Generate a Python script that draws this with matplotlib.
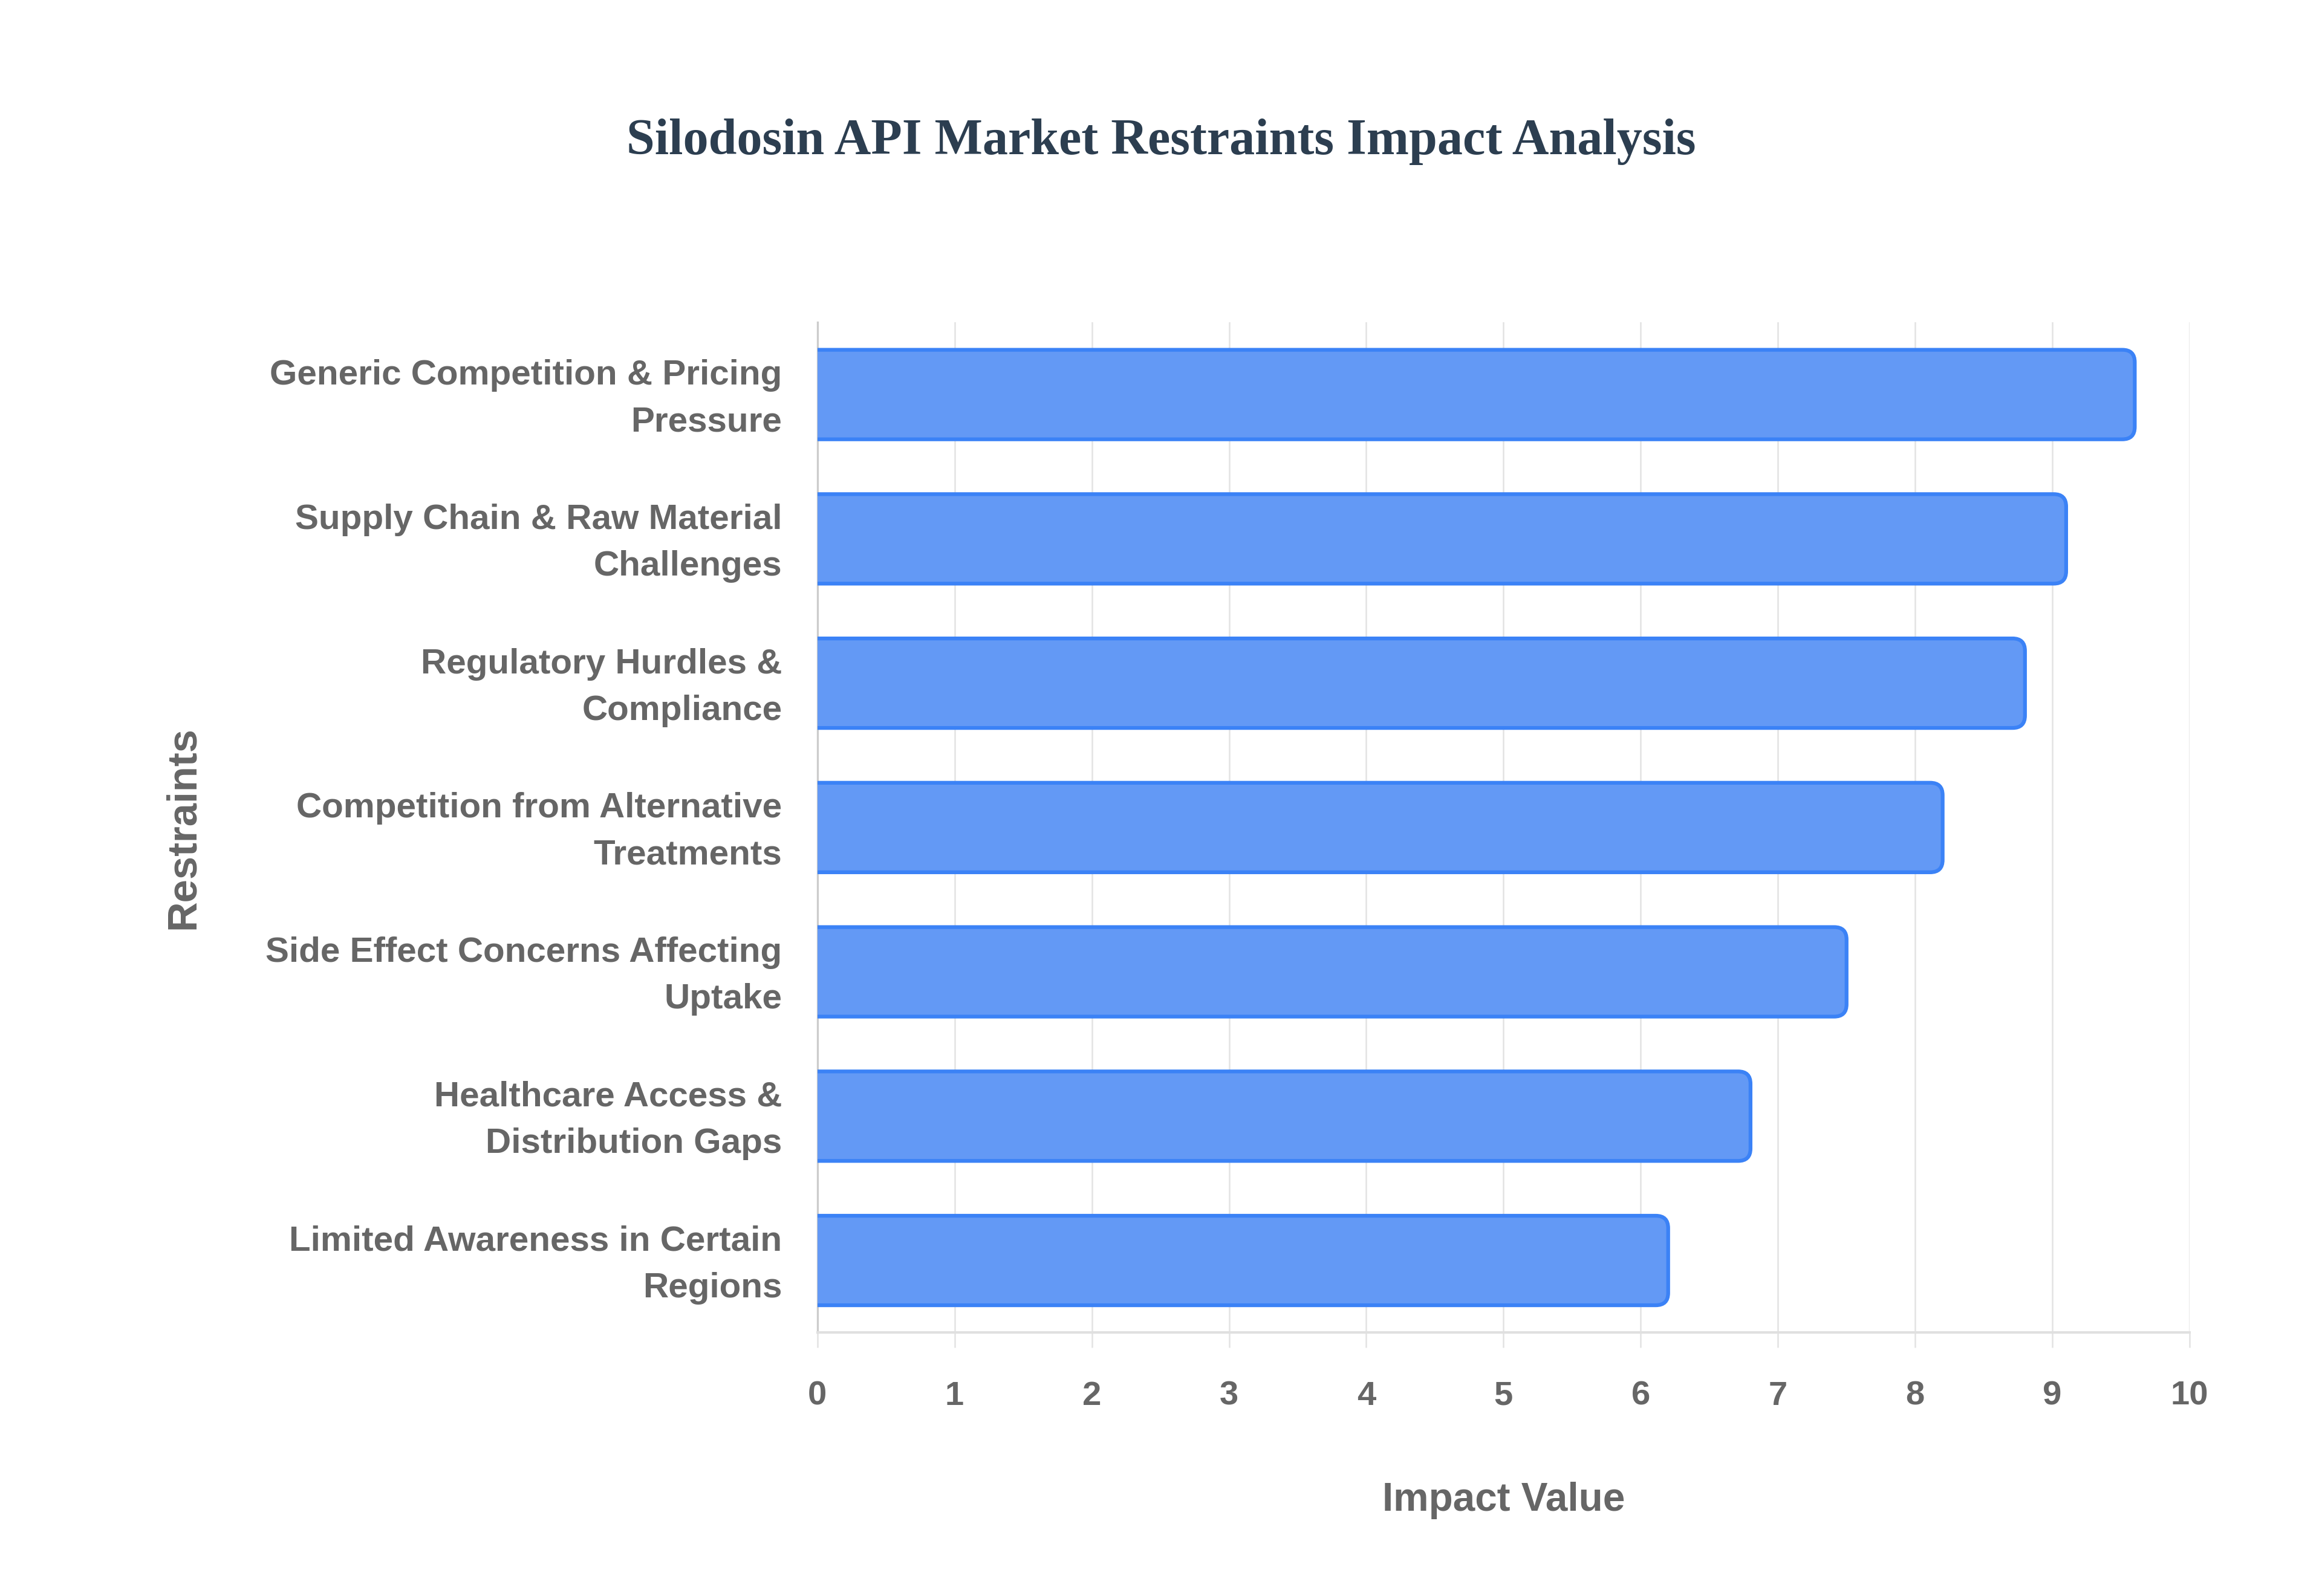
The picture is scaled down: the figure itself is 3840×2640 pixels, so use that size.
import matplotlib
matplotlib.use("Agg")
import matplotlib.pyplot as plt
import matplotlib.transforms as mtransforms
from matplotlib.patches import FancyBboxPatch

categories = [
    "Generic Competition & Pricing\nPressure",
    "Supply Chain & Raw Material\nChallenges",
    "Regulatory Hurdles &\nCompliance",
    "Competition from Alternative\nTreatments",
    "Side Effect Concerns Affecting\nUptake",
    "Healthcare Access &\nDistribution Gaps",
    "Limited Awareness in Certain\nRegions",
]
values = [9.6, 9.1, 8.8, 8.2, 7.5, 6.8, 6.2]
x_ticks = [0, 1, 2, 3, 4, 5, 6, 7, 8, 9, 10]

title = "Silodosin API Market Restraints Impact Analysis"
x_label = "Impact Value"
y_label = "Restraints"

fill_color = "#6399f5"
edge_color = "#3b82f6"
text_gray = "#666666"

fig = plt.figure(figsize=(12.8, 8.8), dpi=300)
ax = fig.add_axes([0.352, 0.165, 0.591, 0.633])

ypos = list(range(len(categories)))
bars = ax.barh(ypos, values, height=0.62, color=fill_color, edgecolor=edge_color, linewidth=1.5)
ax.set_xlim(0, 10)
ax.set_ylim(len(categories) - 0.5, -0.5)

# replace bars with rounded versions (rounded right end, left end hidden behind axis)
ax_w_px = 0.591 * 3840
ax_h_px = 0.633 * 2640
x_per_px = 10 / ax_w_px
y_per_px = len(categories) / ax_h_px
aspect = y_per_px / x_per_px
for b in bars:
    x0, y0 = b.get_x(), b.get_y()
    w, h = b.get_width(), b.get_height()
    r = 0.09
    p = FancyBboxPatch((x0 - 0.3, y0), w + 0.3, h,
                       boxstyle=f"round,pad=0,rounding_size={r}",
                       mutation_aspect=aspect,
                       facecolor=fill_color, edgecolor=edge_color, linewidth=1.5,
                       zorder=3, clip_on=True)
    ax.add_patch(p)
    b.set_visible(False)

ax.set_xticks(x_ticks)
ax.set_yticks(ypos)
ax.set_yticklabels(categories, fontsize=14, fontweight="bold", color=text_gray,
                   family="Liberation Sans", linespacing=1.55)
ax.set_xticklabels([str(t) for t in x_ticks], fontsize=13.5, fontweight="bold",
                   color=text_gray, family="Liberation Sans")
ax.tick_params(axis="y", length=0, pad=14)
ax.tick_params(axis="x", length=6, width=0.6, color="#e3e3e3", pad=13)

shift = mtransforms.ScaledTranslation(0, 2.5 / 72, fig.dpi_scale_trans)
for lab in ax.get_yticklabels():
    lab.set_transform(lab.get_transform() + shift)

ax.grid(axis="x", color="#e3e3e3", linewidth=0.6, zorder=0)
ax.set_axisbelow(True)
for s in ["top", "right"]:
    ax.spines[s].set_visible(False)
ax.spines["left"].set_color("#cccccc")
ax.spines["left"].set_linewidth(0.8)
ax.spines["bottom"].set_color("#e0e0e0")
ax.spines["bottom"].set_linewidth(1.0)

fig.text(0.5 * (0.352 + 0.943), 0.060, x_label, ha="center", va="center",
         fontsize=15.75, fontweight="bold", color=text_gray, family="Liberation Sans")
fig.text(0.079, 0.5 * (0.165 + 0.798), y_label, ha="center", va="center", rotation=90,
         fontsize=16.5, fontweight="bold", color=text_gray, family="Liberation Sans")
fig.text(0.5, 0.911, title, ha="center", va="center", fontsize=20.2, fontweight="bold",
         color="#2c3e50", family="Liberation Serif")

fig.savefig("out.png", dpi=300, facecolor="white")
